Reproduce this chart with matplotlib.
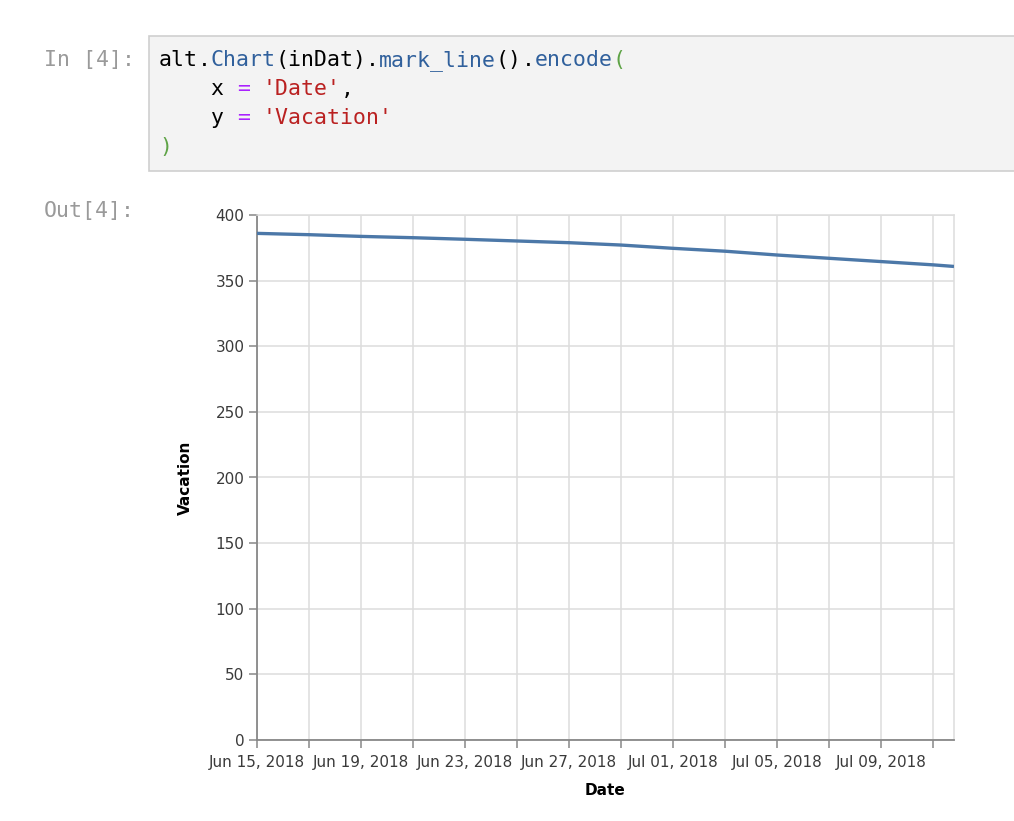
import pandas as pd
import matplotlib
matplotlib.use("Agg")
from matplotlib import pyplot as plt
from matplotlib import dates as mdates
from matplotlib.ticker import FixedLocator
from matplotlib.patches import Rectangle

### data ###

dates = ["2018-06-15 00:00", "2018-06-17 00:00", "2018-06-19 00:00", "2018-06-21 00:00",
         "2018-06-23 00:00", "2018-06-25 00:00", "2018-06-27 00:00", "2018-06-29 00:00",
         "2018-07-01 00:00", "2018-07-03 00:00", "2018-07-05 00:00", "2018-07-07 00:00",
         "2018-07-09 00:00", "2018-07-11 00:00", "2018-07-11 19:00"]
vacation = [386.0, 385.0, 383.7, 382.7, 381.5, 380.2, 378.9, 377.1,
            374.6, 372.4, 369.5, 367.0, 364.5, 362.0, 360.8]
y_ticks = [0, 50, 100, 150, 200, 250, 300, 350, 400]

code_lines = [
    [("alt", "#000000"), (".", "#000000"), ("Chart", "#30609c"), ("(inDat)", "#000000"),
     (".", "#000000"), ("mark_line", "#30609c"), ("()", "#000000"), (".", "#000000"),
     ("encode", "#30609c"), ("(", "#5ea346")],
    [("    x ", "#000000"), ("=", "#aa22ff"), (" ", "#000000"), ("'Date'", "#ba2121"), (",", "#000000")],
    [("    y ", "#000000"), ("=", "#aa22ff"), (" ", "#000000"), ("'Vacation'", "#ba2121")],
    [(")", "#5ea346")],
]

### layout ###

W, H, DPI = 1014, 821, 100
MONO = "DejaVu Sans Mono"
MONO_SIZE = 15.5

def fx(x):
    return x / W

def fy(y):
    return 1 - y / H

def draw_code(fig, lines, x0, baselines):
    char_w = 0.602 * MONO_SIZE * DPI / 72.0
    for line, yb in zip(lines, baselines):
        col = 0
        for tok, color in line:
            fig.text(fx(x0 + col * char_w), fy(yb), tok, family=MONO,
                     fontsize=MONO_SIZE, color=color, va="baseline", ha="left")
            col += len(tok)

fig = plt.figure(figsize=(W / DPI, H / DPI), dpi=DPI)
fig.patch.set_facecolor("white")

# code cell
fig.patches.append(Rectangle((fx(149), fy(171)), fx(1030 - 149), (171 - 36) / H,
                             transform=fig.transFigure, facecolor="#f3f3f3",
                             edgecolor="#cfcfcf", lw=1.2))
fig.text(fx(44), fy(66), "In [4]:", family=MONO, fontsize=MONO_SIZE, color="#9a9a9a", va="baseline")
fig.text(fx(44), fy(217), "Out[4]:", family=MONO, fontsize=MONO_SIZE, color="#9a9a9a", va="baseline")
draw_code(fig, code_lines, 159, [66, 95, 124, 153])

### chart ###

x = pd.to_datetime(dates, format="%Y-%m-%d %H:%M")
ax = fig.add_axes([fx(257), fy(740), (954 - 257) / W, (740 - 215) / H])
ax.plot(x, vacation, color="#4c78a8", lw=2.4, solid_capstyle="butt", zorder=3)

ax.set_xlim(x[0], x[-1])
ax.set_ylim(0, 400)
ax.set_yticks(y_ticks)
major = pd.date_range(x[0], x[-1], freq="4D")
minor = pd.date_range(x[0], x[-1], freq="2D")
ax.xaxis.set_major_locator(FixedLocator(mdates.date2num(major)))
ax.xaxis.set_minor_locator(FixedLocator(mdates.date2num(minor)))
ax.xaxis.set_major_formatter(mdates.DateFormatter("%b %d, %Y"))

ax.grid(True, which="both", color="#dddddd", lw=1.1, zorder=0)
ax.set_axisbelow(True)
for side in ["top", "right"]:
    ax.spines[side].set_color("#dddddd")
    ax.spines[side].set_linewidth(1.1)
for side in ["left", "bottom"]:
    ax.spines[side].set_color("#888888")
    ax.spines[side].set_linewidth(1.3)

ax.tick_params(which="both", direction="out", length=6, width=1.1, color="#888888",
               labelsize=11, labelcolor="#3a3a3a", pad=3)
ax.tick_params(axis="x", which="both", pad=5)
ax.tick_params(axis="x", which="minor", labelbottom=False)
for lab in ax.get_xticklabels() + ax.get_yticklabels():
    lab.set_family("DejaVu Sans")

ax.set_xlabel("Date", fontsize=11, fontweight="bold", family="DejaVu Sans", labelpad=9)
ax.set_ylabel("Vacation", fontsize=11, fontweight="bold", family="DejaVu Sans", labelpad=16)

fig.savefig("out.png", dpi=DPI)
